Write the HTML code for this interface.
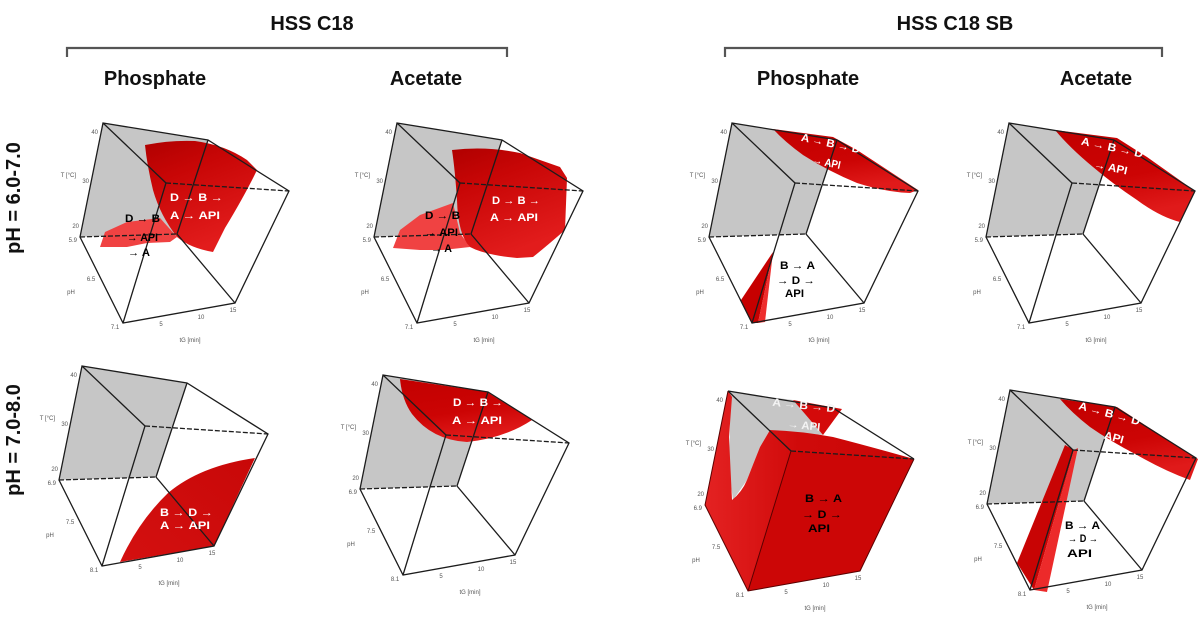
<!DOCTYPE html>
<html><head><meta charset="utf-8"><style>body{margin:0;background:#fff}svg{display:block}</style></head>
<body>
<svg width="1200" height="630" viewBox="0 0 1200 630" xmlns="http://www.w3.org/2000/svg" font-family="'Liberation Sans', Arial, sans-serif">
<defs>
<linearGradient id="cup" x1="0" y1="0" x2="0.4" y2="1"><stop offset="0" stop-color="#b00000"/><stop offset="0.35" stop-color="#c80606"/><stop offset="1" stop-color="#e21c1c"/></linearGradient>
<linearGradient id="strip" x1="0" y1="0" x2="0.3" y2="1"><stop offset="0" stop-color="#c20000"/><stop offset="0.6" stop-color="#cc0404"/><stop offset="1" stop-color="#e01a1a"/></linearGradient>
<linearGradient id="bot" x1="0" y1="1" x2="1" y2="0"><stop offset="0" stop-color="#d41010"/><stop offset="1" stop-color="#c80808"/></linearGradient>
<linearGradient id="front" x1="0" y1="0" x2="1" y2="0"><stop offset="0" stop-color="#e42222"/><stop offset="0.45" stop-color="#d00a0a"/><stop offset="1" stop-color="#c80606"/></linearGradient>
</defs>

<!-- Headers -->
<g font-weight="bold" font-size="20" fill="#111" text-anchor="middle">
<text x="312" y="30">HSS C18</text>
<text x="955" y="30">HSS C18 SB</text>
<text x="155" y="85">Phosphate</text>
<text x="426" y="85">Acetate</text>
<text x="808" y="85">Phosphate</text>
<text x="1096" y="85">Acetate</text>
</g>
<g fill="none" stroke="#555" stroke-width="2.2">
<path d="M67,57 V48 H507 V57"/>
<path d="M725,57 V48 H1162 V57"/>
</g>
<g font-weight="bold" font-size="20" fill="#111" text-anchor="middle">
<text transform="translate(20,198) rotate(-90)">pH = 6.0-7.0</text>
<text transform="translate(20,440) rotate(-90)">pH = 7.0-8.0</text>
</g>

<!-- Gray faces -->
<g fill="#c6c6c6">
<polygon transform="translate(103,123)" points="0,0 105,17 74,111 -23,114"/>
<polygon transform="translate(397,123)" points="0,0 105,17 74,111 -23,114"/>
<polygon transform="translate(732,123)" points="0,0 105,17 74,111 -23,114"/>
<polygon transform="translate(1009,123)" points="0,0 105,17 74,111 -23,114"/>
<polygon transform="translate(82,366)" points="0,0 105,17 74,111 -23,114"/>
<polygon transform="translate(383,375)" points="0,0 105,17 74,111 -23,114"/>
<polygon transform="translate(1010,390)" points="0,0 105,17 74,111 -23,114"/>
</g>

<!-- Red shapes -->
<!-- P1 -->
<polygon fill="#f04242" points="100,247 105,232 127,222 160,218 177,237 170,242 147,243 127,247"/>
<path fill="url(#cup)" d="M145,145 Q170,140 195,141 Q225,145 247,160 L257,170 Q245,195 225,228 L213,252 Q190,248 177,237 Q160,215 153,190 Q147,165 145,145 Z"/>
<!-- P2 -->
<polygon fill="#f04242" points="393,248 400,230 420,215 453,203 460,233 470,247 443,250 420,250"/>
<path fill="url(#cup)" d="M452,150 Q487,146 520,153 L560,167 L567,178 L565,230 Q548,245 533,257 L517,258 Q485,255 470,247 Q458,235 457,200 Q455,170 452,150 Z"/>
<!-- P3 -->
<path fill="url(#strip)" d="M773,129 L833,137 L857,150 L918,190 L910,193 Q885,192 857,183 Q828,171 803,155 Q785,142 773,129 Z"/>
<polygon fill="#c60000" points="741,300 773,252 758,323 752,323"/>
<polygon fill="#ee2e2e" points="773,252 765,322 758,323"/>
<!-- P4 -->
<path fill="url(#strip)" d="M1055,130 L1117,138 L1147,157 L1195,191 L1180,222 Q1160,217 1137,200 Q1113,184 1093,167 Q1070,148 1055,130 Z"/>
<!-- P5 -->
<path fill="url(#bot)" d="M120,562 L214,546 L255,458 Q200,466 168,493 Q138,522 120,562 Z"/>
<!-- P6 -->
<path fill="url(#strip)" d="M400,379 L487,392 L532,420 Q505,438 467,442 Q432,440 412,414 Q402,400 400,379 Z"/>
<!-- P7 -->
<polygon fill="#c6c6c6" points="730,392 793,400 823,435 770,430 760,447 747,480 733,500 729,470 730,420"/>
<path fill="url(#front)" d="M728,391 L732,397 L729,437 L732,500 Q742,492 747,480 Q754,462 760,447 L770,430 Q800,431 833,437 Q868,446 914,459 L860,571 L748,591 L705,505 Z"/>
<polygon fill="#cc0606" points="791,451 914,459 860,571 748,591"/>
<polygon fill="#d40a0a" points="793,400 842,409 823,435"/>
<!-- P8 -->
<path fill="url(#strip)" d="M1060,399 L1117,407 L1198,459 L1190,480 Q1165,471 1137,455 Q1110,441 1090,427 Q1072,413 1060,399 Z"/>
<polygon fill="#c80404" points="1065,445 1074,450 1034,590 1017,563"/>
<polygon fill="#ec2a2a" points="1074,450 1078,448 1047,592 1034,590"/>

<!-- Box lines -->
<g fill="none" stroke="#1c1c1c" stroke-width="1.3">
<g transform="translate(103,123)"><path d="M0,0 L105,17 L186,68 L132,180 L20,200 L-23,114 Z M0,0 L63,60 L20,200 M105,17 L74,111 L132,180"/><path stroke-dasharray="5,2" d="M63,60 L186,68 M-23,114 L74,111"/></g>
<g transform="translate(397,123)"><path d="M0,0 L105,17 L186,68 L132,180 L20,200 L-23,114 Z M0,0 L63,60 L20,200 M105,17 L74,111 L132,180"/><path stroke-dasharray="5,2" d="M63,60 L186,68 M-23,114 L74,111"/></g>
<g transform="translate(732,123)"><path d="M0,0 L105,17 L186,68 L132,180 L20,200 L-23,114 Z M0,0 L63,60 L20,200 M105,17 L74,111 L132,180"/><path stroke-dasharray="5,2" d="M63,60 L186,68 M-23,114 L74,111"/></g>
<g transform="translate(1009,123)"><path d="M0,0 L105,17 L186,68 L132,180 L20,200 L-23,114 Z M0,0 L63,60 L20,200 M105,17 L74,111 L132,180"/><path stroke-dasharray="5,2" d="M63,60 L186,68 M-23,114 L74,111"/></g>
<g transform="translate(82,366)"><path d="M0,0 L105,17 L186,68 L132,180 L20,200 L-23,114 Z M0,0 L63,60 L20,200 M105,17 L74,111 L132,180"/><path stroke-dasharray="5,2" d="M63,60 L186,68 M-23,114 L74,111"/></g>
<g transform="translate(383,375)"><path d="M0,0 L105,17 L186,68 L132,180 L20,200 L-23,114 Z M0,0 L63,60 L20,200 M105,17 L74,111 L132,180"/><path stroke-dasharray="5,2" d="M63,60 L186,68 M-23,114 L74,111"/></g>
<g transform="translate(728,391)"><path d="M0,0 L105,17 L186,68 M0,0 L63,60"/><path stroke="#5a0000" stroke-width="1" d="M186,68 L132,180 L20,200 L-23,114 L0,0 M63,60 L20,200"/><path stroke-dasharray="5,2" d="M63,60 L186,68"/></g>
<g transform="translate(1010,390)"><path d="M0,0 L105,17 L186,68 L132,180 L20,200 L-23,114 Z M0,0 L63,60 L20,200 M105,17 L74,111 L132,180"/><path stroke-dasharray="5,2" d="M63,60 L186,68 M-23,114 L74,111"/></g>
</g>

<!-- Axis labels row 1 -->
<g font-size="6" fill="#555">
<g transform="translate(103,123)"><text x="-5" y="11" text-anchor="end">40</text><text x="-14" y="60" text-anchor="end">30</text><text x="-24" y="105" text-anchor="end">20</text><text x="-26" y="119" text-anchor="end">5.9</text><text x="-27" y="54" text-anchor="end">T [°C]</text><text x="-12" y="158" text-anchor="middle">6.5</text><text x="-32" y="171" text-anchor="middle">pH</text><text x="12" y="206" text-anchor="middle">7.1</text><text x="58" y="203" text-anchor="middle">5</text><text x="98" y="196" text-anchor="middle">10</text><text x="130" y="189" text-anchor="middle">15</text><text x="87" y="219" text-anchor="middle">tG [min]</text></g>
<g transform="translate(397,123)"><text x="-5" y="11" text-anchor="end">40</text><text x="-14" y="60" text-anchor="end">30</text><text x="-24" y="105" text-anchor="end">20</text><text x="-26" y="119" text-anchor="end">5.9</text><text x="-27" y="54" text-anchor="end">T [°C]</text><text x="-12" y="158" text-anchor="middle">6.5</text><text x="-32" y="171" text-anchor="middle">pH</text><text x="12" y="206" text-anchor="middle">7.1</text><text x="58" y="203" text-anchor="middle">5</text><text x="98" y="196" text-anchor="middle">10</text><text x="130" y="189" text-anchor="middle">15</text><text x="87" y="219" text-anchor="middle">tG [min]</text></g>
<g transform="translate(732,123)"><text x="-5" y="11" text-anchor="end">40</text><text x="-14" y="60" text-anchor="end">30</text><text x="-24" y="105" text-anchor="end">20</text><text x="-26" y="119" text-anchor="end">5.9</text><text x="-27" y="54" text-anchor="end">T [°C]</text><text x="-12" y="158" text-anchor="middle">6.5</text><text x="-32" y="171" text-anchor="middle">pH</text><text x="12" y="206" text-anchor="middle">7.1</text><text x="58" y="203" text-anchor="middle">5</text><text x="98" y="196" text-anchor="middle">10</text><text x="130" y="189" text-anchor="middle">15</text><text x="87" y="219" text-anchor="middle">tG [min]</text></g>
<g transform="translate(1009,123)"><text x="-5" y="11" text-anchor="end">40</text><text x="-14" y="60" text-anchor="end">30</text><text x="-24" y="105" text-anchor="end">20</text><text x="-26" y="119" text-anchor="end">5.9</text><text x="-27" y="54" text-anchor="end">T [°C]</text><text x="-12" y="158" text-anchor="middle">6.5</text><text x="-32" y="171" text-anchor="middle">pH</text><text x="12" y="206" text-anchor="middle">7.1</text><text x="58" y="203" text-anchor="middle">5</text><text x="98" y="196" text-anchor="middle">10</text><text x="130" y="189" text-anchor="middle">15</text><text x="87" y="219" text-anchor="middle">tG [min]</text></g>
<!-- row 2 -->
<g transform="translate(82,366)"><text x="-5" y="11" text-anchor="end">40</text><text x="-14" y="60" text-anchor="end">30</text><text x="-24" y="105" text-anchor="end">20</text><text x="-26" y="119" text-anchor="end">6.9</text><text x="-27" y="54" text-anchor="end">T [°C]</text><text x="-12" y="158" text-anchor="middle">7.5</text><text x="-32" y="171" text-anchor="middle">pH</text><text x="12" y="206" text-anchor="middle">8.1</text><text x="58" y="203" text-anchor="middle">5</text><text x="98" y="196" text-anchor="middle">10</text><text x="130" y="189" text-anchor="middle">15</text><text x="87" y="219" text-anchor="middle">tG [min]</text></g>
<g transform="translate(383,375)"><text x="-5" y="11" text-anchor="end">40</text><text x="-14" y="60" text-anchor="end">30</text><text x="-24" y="105" text-anchor="end">20</text><text x="-26" y="119" text-anchor="end">6.9</text><text x="-27" y="54" text-anchor="end">T [°C]</text><text x="-12" y="158" text-anchor="middle">7.5</text><text x="-32" y="171" text-anchor="middle">pH</text><text x="12" y="206" text-anchor="middle">8.1</text><text x="58" y="203" text-anchor="middle">5</text><text x="98" y="196" text-anchor="middle">10</text><text x="130" y="189" text-anchor="middle">15</text><text x="87" y="219" text-anchor="middle">tG [min]</text></g>
<g transform="translate(728,391)"><text x="-5" y="11" text-anchor="end">40</text><text x="-14" y="60" text-anchor="end">30</text><text x="-24" y="105" text-anchor="end">20</text><text x="-26" y="119" text-anchor="end">6.9</text><text x="-27" y="54" text-anchor="end">T [°C]</text><text x="-12" y="158" text-anchor="middle">7.5</text><text x="-32" y="171" text-anchor="middle">pH</text><text x="12" y="206" text-anchor="middle">8.1</text><text x="58" y="203" text-anchor="middle">5</text><text x="98" y="196" text-anchor="middle">10</text><text x="130" y="189" text-anchor="middle">15</text><text x="87" y="219" text-anchor="middle">tG [min]</text></g>
<g transform="translate(1010,390)"><text x="-5" y="11" text-anchor="end">40</text><text x="-14" y="60" text-anchor="end">30</text><text x="-24" y="105" text-anchor="end">20</text><text x="-26" y="119" text-anchor="end">6.9</text><text x="-27" y="54" text-anchor="end">T [°C]</text><text x="-12" y="158" text-anchor="middle">7.5</text><text x="-32" y="171" text-anchor="middle">pH</text><text x="12" y="206" text-anchor="middle">8.1</text><text x="58" y="203" text-anchor="middle">5</text><text x="98" y="196" text-anchor="middle">10</text><text x="130" y="189" text-anchor="middle">15</text><text x="87" y="219" text-anchor="middle">tG [min]</text></g>
</g>

<!-- Region labels -->
<g font-weight="bold" font-size="11" lengthAdjust="spacingAndGlyphs">
<!-- P1 -->
<text x="125" y="222" textLength="35" lengthAdjust="spacingAndGlyphs" fill="#000">D → B</text>
<text x="127" y="241" textLength="31" lengthAdjust="spacingAndGlyphs" fill="#000">→ API</text>
<text x="128" y="256" textLength="22" lengthAdjust="spacingAndGlyphs" fill="#000">→ A</text>
<text x="170" y="201" textLength="53" lengthAdjust="spacingAndGlyphs" fill="#fff">D → B →</text>
<text x="170" y="219" textLength="50" lengthAdjust="spacingAndGlyphs" fill="#fff">A → API</text>
<!-- P2 -->
<text x="425" y="219" textLength="35" lengthAdjust="spacingAndGlyphs" fill="#000">D → B</text>
<text x="425" y="236" textLength="33" lengthAdjust="spacingAndGlyphs" fill="#000">→ API</text>
<text x="431" y="252" textLength="21" lengthAdjust="spacingAndGlyphs" fill="#000">→ A</text>
<text x="492" y="204" textLength="48" lengthAdjust="spacingAndGlyphs" fill="#fff">D → B →</text>
<text x="490" y="221" textLength="48" lengthAdjust="spacingAndGlyphs" fill="#fff">A → API</text>
<!-- P3 -->
<text transform="translate(830,147) rotate(12)" x="-30" y="0" textLength="60" lengthAdjust="spacingAndGlyphs" fill="#fff">A → B → D</text>
<text transform="translate(826,166) rotate(12)" x="-14" y="0" textLength="28" lengthAdjust="spacingAndGlyphs" fill="#fff">→ API</text>
<text x="780" y="269" textLength="35" lengthAdjust="spacingAndGlyphs" fill="#000">B → A</text>
<text x="777" y="284" textLength="38" lengthAdjust="spacingAndGlyphs" fill="#000">→ D →</text>
<text x="785" y="297" textLength="19" lengthAdjust="spacingAndGlyphs" fill="#000">API</text>
<!-- P4 -->
<text transform="translate(1111,151) rotate(12)" x="-31" y="0" textLength="63" lengthAdjust="spacingAndGlyphs" fill="#fff">A → B → D</text>
<text transform="translate(1110,171) rotate(12)" x="-17" y="0" textLength="34" lengthAdjust="spacingAndGlyphs" fill="#fff">→ API</text>
<!-- P5 -->
<text x="160" y="516" textLength="53" lengthAdjust="spacingAndGlyphs" fill="#fff">B → D →</text>
<text x="160" y="529" textLength="50" lengthAdjust="spacingAndGlyphs" fill="#fff">A → API</text>
<!-- P6 -->
<text x="453" y="406" textLength="50" lengthAdjust="spacingAndGlyphs" fill="#fff">D → B →</text>
<text x="452" y="424" textLength="50" lengthAdjust="spacingAndGlyphs" fill="#fff">A → API</text>
<!-- P7 -->
<text transform="translate(803,409) rotate(6)" x="-31" y="0" textLength="63" lengthAdjust="spacingAndGlyphs" fill="#f4f4f4">A → B → D</text>
<text transform="translate(803,429) rotate(6)" x="-16" y="0" textLength="33" lengthAdjust="spacingAndGlyphs" fill="#f4f4f4">→ API</text>
<text x="805" y="502" textLength="37" lengthAdjust="spacingAndGlyphs" fill="#000">B → A</text>
<text x="802" y="518" textLength="40" lengthAdjust="spacingAndGlyphs" fill="#000">→ D →</text>
<text x="808" y="532" textLength="22" lengthAdjust="spacingAndGlyphs" fill="#000">API</text>
<!-- P8 -->
<text transform="translate(1108,417) rotate(15)" x="-31" y="0" textLength="63" lengthAdjust="spacingAndGlyphs" fill="#fff">A → B → D</text>
<text transform="translate(1113,441) rotate(15)" x="-10" y="0" textLength="20" lengthAdjust="spacingAndGlyphs" fill="#fff">API</text>
<text x="1065" y="529" textLength="35" lengthAdjust="spacingAndGlyphs" fill="#000">B → A</text>
<text x="1068" y="542" textLength="30" lengthAdjust="spacingAndGlyphs" fill="#000">→ D →</text>
<text x="1067" y="557" textLength="25" lengthAdjust="spacingAndGlyphs" fill="#000">API</text>
</g>
</svg>
</body></html>
